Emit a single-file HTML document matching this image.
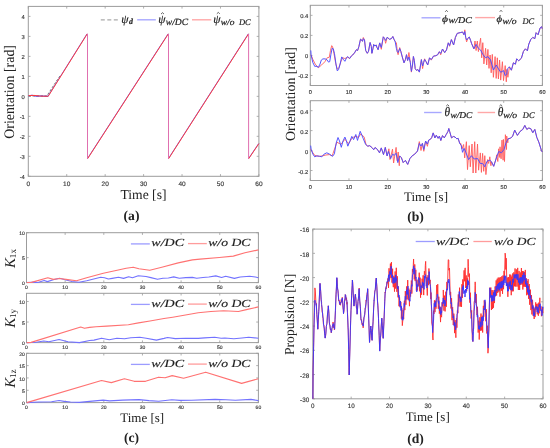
<!DOCTYPE html>
<html><head><meta charset="utf-8"><style>
html,body{margin:0;padding:0;background:#fff;}
svg{display:block;filter:blur(0.3px);} text{text-rendering:geometricPrecision;}
</style></head><body>
<svg width="550" height="448" viewBox="0 0 550 448">
<rect width="550" height="448" fill="#fff"/>
<rect x="28.30" y="6.40" width="230.60" height="169.90" fill="none" stroke="#9c9c9c" stroke-width="1"/>
<line x1="28.30" y1="176.3" x2="28.30" y2="174.10000000000002" stroke="#9c9c9c" stroke-width="0.8"/>
<line x1="28.30" y1="6.4" x2="28.30" y2="8.600000000000001" stroke="#9c9c9c" stroke-width="0.8"/>
<text x="28.30" y="185.60" font-size="6.5" text-anchor="middle" fill="#383838" stroke="#383838" stroke-width="0.15" font-family="'Liberation Sans', sans-serif">0</text>
<line x1="66.73" y1="176.3" x2="66.73" y2="174.10000000000002" stroke="#9c9c9c" stroke-width="0.8"/>
<line x1="66.73" y1="6.4" x2="66.73" y2="8.600000000000001" stroke="#9c9c9c" stroke-width="0.8"/>
<text x="66.73" y="185.60" font-size="6.5" text-anchor="middle" fill="#383838" stroke="#383838" stroke-width="0.15" font-family="'Liberation Sans', sans-serif">10</text>
<line x1="105.17" y1="176.3" x2="105.17" y2="174.10000000000002" stroke="#9c9c9c" stroke-width="0.8"/>
<line x1="105.17" y1="6.4" x2="105.17" y2="8.600000000000001" stroke="#9c9c9c" stroke-width="0.8"/>
<text x="105.17" y="185.60" font-size="6.5" text-anchor="middle" fill="#383838" stroke="#383838" stroke-width="0.15" font-family="'Liberation Sans', sans-serif">20</text>
<line x1="143.60" y1="176.3" x2="143.60" y2="174.10000000000002" stroke="#9c9c9c" stroke-width="0.8"/>
<line x1="143.60" y1="6.4" x2="143.60" y2="8.600000000000001" stroke="#9c9c9c" stroke-width="0.8"/>
<text x="143.60" y="185.60" font-size="6.5" text-anchor="middle" fill="#383838" stroke="#383838" stroke-width="0.15" font-family="'Liberation Sans', sans-serif">30</text>
<line x1="182.03" y1="176.3" x2="182.03" y2="174.10000000000002" stroke="#9c9c9c" stroke-width="0.8"/>
<line x1="182.03" y1="6.4" x2="182.03" y2="8.600000000000001" stroke="#9c9c9c" stroke-width="0.8"/>
<text x="182.03" y="185.60" font-size="6.5" text-anchor="middle" fill="#383838" stroke="#383838" stroke-width="0.15" font-family="'Liberation Sans', sans-serif">40</text>
<line x1="220.47" y1="176.3" x2="220.47" y2="174.10000000000002" stroke="#9c9c9c" stroke-width="0.8"/>
<line x1="220.47" y1="6.4" x2="220.47" y2="8.600000000000001" stroke="#9c9c9c" stroke-width="0.8"/>
<text x="220.47" y="185.60" font-size="6.5" text-anchor="middle" fill="#383838" stroke="#383838" stroke-width="0.15" font-family="'Liberation Sans', sans-serif">50</text>
<line x1="258.90" y1="176.3" x2="258.90" y2="174.10000000000002" stroke="#9c9c9c" stroke-width="0.8"/>
<line x1="258.90" y1="6.4" x2="258.90" y2="8.600000000000001" stroke="#9c9c9c" stroke-width="0.8"/>
<text x="258.90" y="185.60" font-size="6.5" text-anchor="middle" fill="#383838" stroke="#383838" stroke-width="0.15" font-family="'Liberation Sans', sans-serif">60</text>
<line x1="28.3" y1="176.30" x2="30.5" y2="176.30" stroke="#9c9c9c" stroke-width="0.8"/>
<line x1="258.9" y1="176.30" x2="256.7" y2="176.30" stroke="#9c9c9c" stroke-width="0.8"/>
<text x="24.80" y="179.29" font-size="5.8" text-anchor="end" fill="#383838" stroke="#383838" stroke-width="0.15" font-family="'Liberation Sans', sans-serif">-4</text>
<line x1="28.3" y1="156.31" x2="30.5" y2="156.31" stroke="#9c9c9c" stroke-width="0.8"/>
<line x1="258.9" y1="156.31" x2="256.7" y2="156.31" stroke="#9c9c9c" stroke-width="0.8"/>
<text x="24.80" y="159.30" font-size="5.8" text-anchor="end" fill="#383838" stroke="#383838" stroke-width="0.15" font-family="'Liberation Sans', sans-serif">-3</text>
<line x1="28.3" y1="136.32" x2="30.5" y2="136.32" stroke="#9c9c9c" stroke-width="0.8"/>
<line x1="258.9" y1="136.32" x2="256.7" y2="136.32" stroke="#9c9c9c" stroke-width="0.8"/>
<text x="24.80" y="139.31" font-size="5.8" text-anchor="end" fill="#383838" stroke="#383838" stroke-width="0.15" font-family="'Liberation Sans', sans-serif">-2</text>
<line x1="28.3" y1="116.34" x2="30.5" y2="116.34" stroke="#9c9c9c" stroke-width="0.8"/>
<line x1="258.9" y1="116.34" x2="256.7" y2="116.34" stroke="#9c9c9c" stroke-width="0.8"/>
<text x="24.80" y="119.32" font-size="5.8" text-anchor="end" fill="#383838" stroke="#383838" stroke-width="0.15" font-family="'Liberation Sans', sans-serif">-1</text>
<line x1="28.3" y1="96.35" x2="30.5" y2="96.35" stroke="#9c9c9c" stroke-width="0.8"/>
<line x1="258.9" y1="96.35" x2="256.7" y2="96.35" stroke="#9c9c9c" stroke-width="0.8"/>
<text x="24.80" y="99.34" font-size="5.8" text-anchor="end" fill="#383838" stroke="#383838" stroke-width="0.15" font-family="'Liberation Sans', sans-serif">0</text>
<line x1="28.3" y1="76.36" x2="30.5" y2="76.36" stroke="#9c9c9c" stroke-width="0.8"/>
<line x1="258.9" y1="76.36" x2="256.7" y2="76.36" stroke="#9c9c9c" stroke-width="0.8"/>
<text x="24.80" y="79.35" font-size="5.8" text-anchor="end" fill="#383838" stroke="#383838" stroke-width="0.15" font-family="'Liberation Sans', sans-serif">1</text>
<line x1="28.3" y1="56.37" x2="30.5" y2="56.37" stroke="#9c9c9c" stroke-width="0.8"/>
<line x1="258.9" y1="56.37" x2="256.7" y2="56.37" stroke="#9c9c9c" stroke-width="0.8"/>
<text x="24.80" y="59.36" font-size="5.8" text-anchor="end" fill="#383838" stroke="#383838" stroke-width="0.15" font-family="'Liberation Sans', sans-serif">2</text>
<line x1="28.3" y1="36.38" x2="30.5" y2="36.38" stroke="#9c9c9c" stroke-width="0.8"/>
<line x1="258.9" y1="36.38" x2="256.7" y2="36.38" stroke="#9c9c9c" stroke-width="0.8"/>
<text x="24.80" y="39.37" font-size="5.8" text-anchor="end" fill="#383838" stroke="#383838" stroke-width="0.15" font-family="'Liberation Sans', sans-serif">3</text>
<line x1="28.3" y1="16.39" x2="30.5" y2="16.39" stroke="#9c9c9c" stroke-width="0.8"/>
<line x1="258.9" y1="16.39" x2="256.7" y2="16.39" stroke="#9c9c9c" stroke-width="0.8"/>
<text x="24.80" y="19.38" font-size="5.8" text-anchor="end" fill="#383838" stroke="#383838" stroke-width="0.15" font-family="'Liberation Sans', sans-serif">4</text>
<text transform="translate(14.1,91.9) rotate(-90)" font-size="14.5" font-family="'Liberation Serif', serif" fill="#222" text-anchor="middle" textLength="93.8" lengthAdjust="spacingAndGlyphs">Orientation [rad]</text>
<text x="143.50" y="198.70" font-size="13.6" font-family="'Liberation Serif', serif" fill="#222" text-anchor="middle" >Time [s]</text>
<text x="131.50" y="220.00" font-size="13.6" font-family="'Liberation Serif', serif" fill="#222" text-anchor="middle" font-weight="bold">(a)</text>
<polyline points="28.50,96.00 46.80,96.00 57.50,79.50 60.00,76.00" fill="none" stroke="#777" stroke-width="1.0" stroke-opacity="1.0" stroke-linejoin="round" stroke-dasharray="2.5,1.5"/>
<polyline points="28.50,95.80 32.00,95.20 36.00,96.20 41.00,96.00 48.20,96.30" fill="none" stroke="#4040ff" stroke-width="1.0" stroke-opacity="1.0" stroke-linejoin="round"/>
<polyline points="28.50,95.60 34.00,95.40 40.50,96.10 48.20,96.30" fill="none" stroke="#ff3a3a" stroke-width="1.0" stroke-opacity="1.0" stroke-linejoin="round"/>
<polyline points="47.95,96.30 87.05,33.80" fill="none" stroke="#5050ff" stroke-width="0.8" stroke-opacity="1.0" stroke-linejoin="round"/>
<polyline points="87.35,158.70 168.15,33.80" fill="none" stroke="#5050ff" stroke-width="0.8" stroke-opacity="1.0" stroke-linejoin="round"/>
<polyline points="168.35,158.70 248.35,33.80" fill="none" stroke="#5050ff" stroke-width="0.8" stroke-opacity="1.0" stroke-linejoin="round"/>
<polyline points="248.45,158.70 258.65,143.60" fill="none" stroke="#5050ff" stroke-width="0.8" stroke-opacity="1.0" stroke-linejoin="round"/>
<polyline points="48.20,96.30 87.30,33.80" fill="none" stroke="#ff3a3a" stroke-width="1.0" stroke-opacity="1.0" stroke-linejoin="round"/>
<polyline points="87.60,158.70 168.40,33.80" fill="none" stroke="#ff3a3a" stroke-width="1.0" stroke-opacity="1.0" stroke-linejoin="round"/>
<polyline points="168.60,158.70 248.60,33.80" fill="none" stroke="#ff3a3a" stroke-width="1.0" stroke-opacity="1.0" stroke-linejoin="round"/>
<polyline points="248.70,158.70 258.90,143.60" fill="none" stroke="#ff3a3a" stroke-width="1.0" stroke-opacity="1.0" stroke-linejoin="round"/>
<line x1="87.5" y1="34" x2="87.5" y2="158.7" stroke="#e070b0" stroke-width="1"/>
<line x1="168.5" y1="34" x2="168.5" y2="158.7" stroke="#e070b0" stroke-width="1"/>
<line x1="248.6" y1="34" x2="248.6" y2="158.7" stroke="#e070b0" stroke-width="1"/>
<line x1="100.8" y1="19.8" x2="119" y2="19.8" stroke="#aaa" stroke-width="1.3" stroke-dasharray="4,2.5"/>
<line x1="137.2" y1="19.8" x2="155.8" y2="19.8" stroke="#a8a8ff" stroke-width="1.4"/>
<line x1="192" y1="19.8" x2="211.3" y2="19.8" stroke="#ffa8a8" stroke-width="1.4"/>
<text x="121.30" y="22.60" font-size="11.7" font-family="'Liberation Serif', serif" fill="#222" text-anchor="start" font-style="italic" stroke="#222" stroke-width="0.2">ψ</text>
<text x="128.90" y="24.40" font-size="7.8" font-family="'Liberation Serif', serif" fill="#222" text-anchor="start" font-style="italic" stroke="#222" stroke-width="0.2" font-weight="bold">d</text>
<text x="158.30" y="22.60" font-size="11.7" font-family="'Liberation Serif', serif" fill="#222" text-anchor="start" font-style="italic" stroke="#222" stroke-width="0.2">ψ</text>
<polyline points="161.00,14.10 162.50,12.70 164.00,14.10" fill="none" stroke="#222" stroke-width="0.7"/>
<text x="165.80" y="25.10" font-size="9.5" font-family="'Liberation Serif', serif" fill="#222" text-anchor="start" font-style="italic" stroke="#222" stroke-width="0.2" textLength="22.3" lengthAdjust="spacingAndGlyphs">w/DC</text>
<text x="213.20" y="22.60" font-size="11.7" font-family="'Liberation Serif', serif" fill="#222" text-anchor="start" font-style="italic" stroke="#222" stroke-width="0.2">ψ</text>
<polyline points="216.80,13.80 218.30,12.40 219.80,13.80" fill="none" stroke="#222" stroke-width="0.7"/>
<text x="220.70" y="25.30" font-size="9.0" font-family="'Liberation Serif', serif" fill="#222" text-anchor="start" font-style="italic" stroke="#222" stroke-width="0.2" textLength="13.7" lengthAdjust="spacingAndGlyphs">w/o</text>
<text x="238.90" y="25.30" font-size="8.6" font-family="'Liberation Serif', serif" fill="#222" text-anchor="start" font-style="italic" stroke="#222" stroke-width="0.2" textLength="11.8" lengthAdjust="spacingAndGlyphs">DC</text>
<rect x="310.30" y="5.30" width="232.10" height="80.20" fill="none" stroke="#9c9c9c" stroke-width="1"/>
<line x1="310.30" y1="85.5" x2="310.30" y2="83.3" stroke="#9c9c9c" stroke-width="0.8"/>
<line x1="310.30" y1="5.3" x2="310.30" y2="7.5" stroke="#9c9c9c" stroke-width="0.8"/>
<text x="310.30" y="93.50" font-size="5.6" text-anchor="middle" fill="#383838" stroke="#383838" stroke-width="0.15" font-family="'Liberation Sans', sans-serif">0</text>
<line x1="348.98" y1="85.5" x2="348.98" y2="83.3" stroke="#9c9c9c" stroke-width="0.8"/>
<line x1="348.98" y1="5.3" x2="348.98" y2="7.5" stroke="#9c9c9c" stroke-width="0.8"/>
<text x="348.98" y="93.50" font-size="5.6" text-anchor="middle" fill="#383838" stroke="#383838" stroke-width="0.15" font-family="'Liberation Sans', sans-serif">10</text>
<line x1="387.67" y1="85.5" x2="387.67" y2="83.3" stroke="#9c9c9c" stroke-width="0.8"/>
<line x1="387.67" y1="5.3" x2="387.67" y2="7.5" stroke="#9c9c9c" stroke-width="0.8"/>
<text x="387.67" y="93.50" font-size="5.6" text-anchor="middle" fill="#383838" stroke="#383838" stroke-width="0.15" font-family="'Liberation Sans', sans-serif">20</text>
<line x1="426.35" y1="85.5" x2="426.35" y2="83.3" stroke="#9c9c9c" stroke-width="0.8"/>
<line x1="426.35" y1="5.3" x2="426.35" y2="7.5" stroke="#9c9c9c" stroke-width="0.8"/>
<text x="426.35" y="93.50" font-size="5.6" text-anchor="middle" fill="#383838" stroke="#383838" stroke-width="0.15" font-family="'Liberation Sans', sans-serif">30</text>
<line x1="465.03" y1="85.5" x2="465.03" y2="83.3" stroke="#9c9c9c" stroke-width="0.8"/>
<line x1="465.03" y1="5.3" x2="465.03" y2="7.5" stroke="#9c9c9c" stroke-width="0.8"/>
<text x="465.03" y="93.50" font-size="5.6" text-anchor="middle" fill="#383838" stroke="#383838" stroke-width="0.15" font-family="'Liberation Sans', sans-serif">40</text>
<line x1="503.72" y1="85.5" x2="503.72" y2="83.3" stroke="#9c9c9c" stroke-width="0.8"/>
<line x1="503.72" y1="5.3" x2="503.72" y2="7.5" stroke="#9c9c9c" stroke-width="0.8"/>
<text x="503.72" y="93.50" font-size="5.6" text-anchor="middle" fill="#383838" stroke="#383838" stroke-width="0.15" font-family="'Liberation Sans', sans-serif">50</text>
<line x1="542.40" y1="85.5" x2="542.40" y2="83.3" stroke="#9c9c9c" stroke-width="0.8"/>
<line x1="542.40" y1="5.3" x2="542.40" y2="7.5" stroke="#9c9c9c" stroke-width="0.8"/>
<text x="542.40" y="93.50" font-size="5.6" text-anchor="middle" fill="#383838" stroke="#383838" stroke-width="0.15" font-family="'Liberation Sans', sans-serif">60</text>
<line x1="310.3" y1="75.47" x2="312.5" y2="75.47" stroke="#9c9c9c" stroke-width="0.8"/>
<line x1="542.4" y1="75.47" x2="540.1999999999999" y2="75.47" stroke="#9c9c9c" stroke-width="0.8"/>
<text x="308.20" y="78.46" font-size="5.8" text-anchor="end" fill="#383838" stroke="#383838" stroke-width="0.15" font-family="'Liberation Sans', sans-serif">-0.2</text>
<line x1="310.3" y1="55.43" x2="312.5" y2="55.43" stroke="#9c9c9c" stroke-width="0.8"/>
<line x1="542.4" y1="55.43" x2="540.1999999999999" y2="55.43" stroke="#9c9c9c" stroke-width="0.8"/>
<text x="308.20" y="58.41" font-size="5.8" text-anchor="end" fill="#383838" stroke="#383838" stroke-width="0.15" font-family="'Liberation Sans', sans-serif">0</text>
<line x1="310.3" y1="35.38" x2="312.5" y2="35.38" stroke="#9c9c9c" stroke-width="0.8"/>
<line x1="542.4" y1="35.38" x2="540.1999999999999" y2="35.38" stroke="#9c9c9c" stroke-width="0.8"/>
<text x="308.20" y="38.36" font-size="5.8" text-anchor="end" fill="#383838" stroke="#383838" stroke-width="0.15" font-family="'Liberation Sans', sans-serif">0.2</text>
<line x1="310.3" y1="15.33" x2="312.5" y2="15.33" stroke="#9c9c9c" stroke-width="0.8"/>
<line x1="542.4" y1="15.33" x2="540.1999999999999" y2="15.33" stroke="#9c9c9c" stroke-width="0.8"/>
<text x="308.20" y="18.31" font-size="5.8" text-anchor="end" fill="#383838" stroke="#383838" stroke-width="0.15" font-family="'Liberation Sans', sans-serif">0.4</text>
<rect x="310.30" y="100.70" width="232.10" height="79.80" fill="none" stroke="#9c9c9c" stroke-width="1"/>
<line x1="310.30" y1="180.5" x2="310.30" y2="178.3" stroke="#9c9c9c" stroke-width="0.8"/>
<line x1="310.30" y1="100.7" x2="310.30" y2="102.9" stroke="#9c9c9c" stroke-width="0.8"/>
<text x="310.30" y="188.80" font-size="5.6" text-anchor="middle" fill="#383838" stroke="#383838" stroke-width="0.15" font-family="'Liberation Sans', sans-serif">0</text>
<line x1="348.98" y1="180.5" x2="348.98" y2="178.3" stroke="#9c9c9c" stroke-width="0.8"/>
<line x1="348.98" y1="100.7" x2="348.98" y2="102.9" stroke="#9c9c9c" stroke-width="0.8"/>
<text x="348.98" y="188.80" font-size="5.6" text-anchor="middle" fill="#383838" stroke="#383838" stroke-width="0.15" font-family="'Liberation Sans', sans-serif">10</text>
<line x1="387.67" y1="180.5" x2="387.67" y2="178.3" stroke="#9c9c9c" stroke-width="0.8"/>
<line x1="387.67" y1="100.7" x2="387.67" y2="102.9" stroke="#9c9c9c" stroke-width="0.8"/>
<text x="387.67" y="188.80" font-size="5.6" text-anchor="middle" fill="#383838" stroke="#383838" stroke-width="0.15" font-family="'Liberation Sans', sans-serif">20</text>
<line x1="426.35" y1="180.5" x2="426.35" y2="178.3" stroke="#9c9c9c" stroke-width="0.8"/>
<line x1="426.35" y1="100.7" x2="426.35" y2="102.9" stroke="#9c9c9c" stroke-width="0.8"/>
<text x="426.35" y="188.80" font-size="5.6" text-anchor="middle" fill="#383838" stroke="#383838" stroke-width="0.15" font-family="'Liberation Sans', sans-serif">30</text>
<line x1="465.03" y1="180.5" x2="465.03" y2="178.3" stroke="#9c9c9c" stroke-width="0.8"/>
<line x1="465.03" y1="100.7" x2="465.03" y2="102.9" stroke="#9c9c9c" stroke-width="0.8"/>
<text x="465.03" y="188.80" font-size="5.6" text-anchor="middle" fill="#383838" stroke="#383838" stroke-width="0.15" font-family="'Liberation Sans', sans-serif">40</text>
<line x1="503.72" y1="180.5" x2="503.72" y2="178.3" stroke="#9c9c9c" stroke-width="0.8"/>
<line x1="503.72" y1="100.7" x2="503.72" y2="102.9" stroke="#9c9c9c" stroke-width="0.8"/>
<text x="503.72" y="188.80" font-size="5.6" text-anchor="middle" fill="#383838" stroke="#383838" stroke-width="0.15" font-family="'Liberation Sans', sans-serif">50</text>
<line x1="542.40" y1="180.5" x2="542.40" y2="178.3" stroke="#9c9c9c" stroke-width="0.8"/>
<line x1="542.40" y1="100.7" x2="542.40" y2="102.9" stroke="#9c9c9c" stroke-width="0.8"/>
<text x="542.40" y="188.80" font-size="5.6" text-anchor="middle" fill="#383838" stroke="#383838" stroke-width="0.15" font-family="'Liberation Sans', sans-serif">60</text>
<line x1="310.3" y1="170.53" x2="312.5" y2="170.53" stroke="#9c9c9c" stroke-width="0.8"/>
<line x1="542.4" y1="170.53" x2="540.1999999999999" y2="170.53" stroke="#9c9c9c" stroke-width="0.8"/>
<text x="308.20" y="173.51" font-size="5.8" text-anchor="end" fill="#383838" stroke="#383838" stroke-width="0.15" font-family="'Liberation Sans', sans-serif">-0.2</text>
<line x1="310.3" y1="150.58" x2="312.5" y2="150.58" stroke="#9c9c9c" stroke-width="0.8"/>
<line x1="542.4" y1="150.58" x2="540.1999999999999" y2="150.58" stroke="#9c9c9c" stroke-width="0.8"/>
<text x="308.20" y="153.56" font-size="5.8" text-anchor="end" fill="#383838" stroke="#383838" stroke-width="0.15" font-family="'Liberation Sans', sans-serif">0</text>
<line x1="310.3" y1="130.62" x2="312.5" y2="130.62" stroke="#9c9c9c" stroke-width="0.8"/>
<line x1="542.4" y1="130.62" x2="540.1999999999999" y2="130.62" stroke="#9c9c9c" stroke-width="0.8"/>
<text x="308.20" y="133.61" font-size="5.8" text-anchor="end" fill="#383838" stroke="#383838" stroke-width="0.15" font-family="'Liberation Sans', sans-serif">0.2</text>
<line x1="310.3" y1="110.68" x2="312.5" y2="110.68" stroke="#9c9c9c" stroke-width="0.8"/>
<line x1="542.4" y1="110.68" x2="540.1999999999999" y2="110.68" stroke="#9c9c9c" stroke-width="0.8"/>
<text x="308.20" y="113.66" font-size="5.8" text-anchor="end" fill="#383838" stroke="#383838" stroke-width="0.15" font-family="'Liberation Sans', sans-serif">0.4</text>
<text transform="translate(294.6,94.1) rotate(-90)" font-size="14" font-family="'Liberation Serif', serif" fill="#222" text-anchor="middle" textLength="94" lengthAdjust="spacingAndGlyphs">Orientation [rad]</text>
<polyline points="311.10,54.90 312.80,59.30 315.20,64.10 318.40,67.70 321.70,64.90 324.90,61.70 327.30,57.70 329.30,57.30 330.50,50.40 331.70,45.60 332.50,46.40 333.70,52.00 335.70,63.30 337.30,69.30 338.90,67.70 340.90,61.70 342.50,57.70 344.90,58.50 347.80,57.30 349.60,58.50 351.60,55.70 354.00,53.70 356.40,49.70 357.60,50.50 358.90,46.50 360.50,39.20 361.70,40.00 362.50,41.30 363.30,37.50 364.50,40.00 365.70,50.50 367.30,53.30 368.50,51.30 370.10,42.50 371.30,46.50 371.90,53.30 372.90,48.90 373.70,44.50 374.90,46.10 376.10,44.90 376.90,47.30 378.10,49.70 379.70,42.90 381.30,49.30 383.30,36.80 384.60,38.50 385.60,43.30 387.20,37.30 389.60,39.30 391.60,38.50 392.80,36.50 394.00,39.30 395.20,41.70 396.40,42.70 397.30,51.70 398.10,54.70 399.70,47.60 400.90,51.60 402.30,57.00 404.00,62.80 405.40,59.60 406.50,54.70 407.60,60.50 408.90,52.50 410.30,62.30 411.40,72.10 412.50,65.00 413.40,56.50 414.30,60.50 415.20,68.60 416.50,70.40 417.90,69.50 419.40,72.10 421.40,59.60 422.60,68.60 423.70,62.30 424.60,58.80 425.90,61.40 427.70,65.00 429.50,57.90 431.30,60.10 433.50,56.10 435.80,55.70 437.60,54.80 439.40,51.70 440.70,54.80 442.50,49.00 444.70,52.60 446.50,49.90 448.30,42.80 449.60,46.30 451.40,39.60 453.60,45.00 455.40,37.40 457.20,33.40 459.00,32.90 460.80,32.50 462.60,32.00 463.90,34.70 464.80,29.80 465.70,37.40 466.60,41.90 467.90,38.30 469.30,37.00 470.60,40.50 471.70,43.80 473.90,48.80 475.00,41.00 476.10,50.50 477.30,41.00 478.40,51.60 480.60,38.20 481.70,57.80 482.80,42.70 483.90,63.90 485.60,48.30 486.70,65.00 487.90,49.40 489.00,68.40 490.10,55.00 491.20,72.80 492.30,54.40 493.40,77.30 495.10,56.60 496.20,78.40 497.30,57.80 498.40,79.00 499.60,60.00 500.70,80.10 502.40,61.70 503.50,80.60 505.20,65.60 506.30,81.80 506.80,69.50 507.90,77.30 509.40,66.90 511.40,70.20 513.40,62.80 515.40,64.20 516.70,58.80 518.70,60.80 521.40,58.20 523.40,51.50 525.40,48.80 527.40,50.80 528.80,44.10 530.80,39.40 532.80,37.40 534.80,38.70 536.10,32.70 538.10,34.70 540.10,28.00 541.50,26.70 542.20,28.70" fill="none" stroke="#ff5a5a" stroke-width="0.9" stroke-opacity="1.0" stroke-linejoin="round"/>
<polyline points="310.80,50.40 311.10,54.90 312.80,62.50 314.80,66.50 316.00,66.10 318.40,67.30 320.00,64.10 321.30,60.10 322.90,58.90 325.30,58.90 327.30,60.10 328.50,62.10 329.70,61.70 330.90,54.50 332.10,48.40 333.30,48.80 334.50,53.70 336.10,64.90 337.30,70.90 338.50,69.70 340.10,64.10 341.70,56.90 343.30,59.30 344.90,61.30 346.60,57.70 347.60,56.50 349.60,58.50 351.60,55.70 354.00,53.70 356.40,49.70 357.60,50.50 358.90,46.50 360.50,39.20 361.70,40.00 362.50,41.30 363.30,38.60 364.50,40.00 365.70,50.50 367.30,53.30 368.50,51.30 370.10,42.50 371.30,46.50 371.90,53.30 372.90,48.90 373.70,44.50 374.90,46.10 376.10,44.90 376.90,47.30 378.10,49.70 379.70,42.90 381.30,47.50 383.30,36.80 384.60,38.50 385.60,40.50 387.20,37.30 389.60,39.30 391.60,38.50 392.80,36.50 394.00,39.30 395.20,41.70 396.40,48.50 397.30,51.70 398.10,52.50 399.70,48.50 400.90,51.60 402.30,57.00 404.00,62.80 405.40,59.60 406.50,54.70 407.60,60.50 408.90,57.00 410.30,62.30 411.40,71.30 412.50,65.00 413.40,56.50 414.30,60.50 415.20,68.60 416.50,70.40 417.90,69.50 419.40,72.10 421.40,59.60 422.60,66.00 423.70,62.30 424.60,59.50 425.90,61.40 427.70,65.00 429.50,57.90 431.30,59.50 433.50,56.10 435.80,55.70 437.60,54.80 439.40,51.70 440.70,53.50 442.50,49.00 444.70,52.60 446.50,49.90 448.30,42.80 449.60,45.50 451.40,39.60 453.60,45.00 455.40,37.40 457.20,33.40 459.00,32.90 460.80,32.50 462.60,32.00 463.90,34.70 464.80,31.50 465.70,37.40 466.60,40.00 467.90,38.30 469.30,37.00 470.60,40.50 471.70,43.80 473.90,48.80 476.10,44.40 478.40,48.30 480.60,50.00 482.80,54.40 485.60,57.80 487.90,56.60 490.60,60.00 493.40,70.00 496.20,65.00 498.50,68.90 500.70,72.30 503.50,70.60 505.20,75.60 506.80,73.90 507.30,68.90 509.40,66.90 511.40,70.20 513.40,62.80 515.40,64.20 516.70,58.80 518.70,60.80 521.40,58.20 523.40,51.50 525.40,48.80 527.40,50.80 528.80,44.10 530.80,39.40 532.80,37.40 534.80,38.70 536.10,32.70 538.10,34.70 540.10,28.00 541.50,26.70 542.20,28.70" fill="none" stroke="#4c4cff" stroke-width="0.95" stroke-opacity="1.0" stroke-linejoin="round"/>
<polyline points="310.70,149.20 312.50,152.30 314.70,155.40 316.90,155.90 319.60,156.30 322.30,155.90 325.90,155.00 329.40,154.60 332.10,155.90 332.90,153.80 336.90,142.20 340.90,144.40 344.90,139.30 348.50,143.60 352.50,137.50 356.20,136.40 358.40,137.50 360.90,133.80 364.20,137.10 366.10,144.80 367.80,146.20 369.70,145.70 371.90,147.50 373.70,149.70 375.00,147.50 377.30,149.30 379.50,152.80 381.30,147.90 383.50,154.60 385.30,147.40 387.10,155.90 388.90,148.80 390.00,159.50 392.50,149.20 393.60,163.00 396.10,147.40 397.20,160.80 398.20,152.00 399.30,165.70 399.60,155.90 401.40,157.70 403.20,162.60 405.40,160.40 407.70,164.40 409.90,158.60 412.10,155.90 414.80,154.10 417.50,151.00 419.30,141.60 421.00,150.50 422.40,143.40 423.80,151.30 425.60,141.00 427.40,146.30 428.70,140.10 430.50,139.20 431.80,137.40 433.20,132.90 434.90,137.90 436.30,135.20 438.10,138.30 439.40,136.10 440.80,140.50 442.50,135.60 444.30,137.90 446.10,134.70 447.90,131.60 448.80,128.50 449.70,131.60 451.50,137.90 453.30,136.50 455.00,137.00 456.80,138.80 458.20,138.40 459.70,143.40 460.80,143.40 461.90,149.00 463.60,144.50 464.70,157.90 466.40,141.70 467.50,169.60 469.20,145.60 470.30,166.80 472.00,144.00 473.10,173.00 474.70,141.70 475.80,173.00 477.50,144.00 478.60,170.20 480.30,152.90 481.40,172.40 482.60,153.40 483.70,171.30 484.80,155.70 485.90,174.60 487.60,159.60 488.70,163.50 489.80,156.80 490.90,165.70 491.50,161.80 493.70,166.30 496.00,159.00 496.70,154.80 497.80,161.50 498.70,148.80 499.80,157.50 500.00,146.80 501.10,158.80 502.00,140.10 503.10,160.20 503.40,139.40 504.50,161.50 505.40,134.70 506.50,149.50 506.70,136.10 507.80,142.80 508.10,138.80 510.70,138.10 512.70,136.10 514.70,130.10 517.40,135.40 520.10,131.40 522.80,129.40 524.80,125.40 526.80,129.40 528.80,128.00 530.80,128.70 532.80,132.70 534.80,129.40 536.80,137.40 538.80,142.10 541.50,150.80 542.40,152.00" fill="none" stroke="#ff5a5a" stroke-width="0.9" stroke-opacity="1.0" stroke-linejoin="round"/>
<polyline points="310.70,145.60 311.10,149.20 312.90,154.10 314.70,156.80 316.90,155.90 319.60,156.30 321.80,156.80 324.10,154.10 326.80,152.80 329.40,154.10 332.60,156.30 334.40,153.80 336.20,143.00 338.00,137.50 339.50,141.00 341.30,147.30 343.00,141.00 344.90,137.10 346.30,140.50 347.80,146.20 349.80,141.50 351.80,136.40 353.60,139.60 355.80,134.50 357.50,140.40 360.20,131.30 363.10,138.20 365.60,144.40 367.80,146.20 369.70,145.70 371.90,147.50 373.70,149.70 375.00,147.50 377.30,149.30 379.50,152.80 381.30,147.90 383.50,154.60 385.30,147.40 387.10,155.90 388.50,151.40 390.70,158.60 392.50,154.10 394.30,155.40 396.10,153.20 397.80,162.60 399.60,155.90 401.40,157.70 403.20,162.60 405.40,160.40 407.70,164.40 409.90,158.60 412.10,155.90 414.80,154.10 417.50,151.00 419.30,143.40 421.00,146.10 422.40,143.40 423.80,149.50 425.60,141.00 427.40,144.10 428.70,140.10 430.50,139.20 431.80,137.40 433.20,132.90 434.90,137.90 436.30,135.20 438.10,138.30 439.40,136.10 440.80,140.50 442.50,135.60 444.30,137.90 446.10,134.70 447.90,131.60 448.80,128.50 449.70,131.60 451.50,137.90 453.30,136.50 455.00,137.00 456.80,138.80 458.20,138.40 459.70,143.40 461.30,145.60 462.50,152.30 464.10,148.40 465.80,152.30 468.60,159.60 471.40,155.70 474.20,159.00 477.50,158.50 480.30,163.50 482.60,163.50 484.80,166.80 487.00,161.30 489.80,160.10 491.50,161.80 493.70,166.30 496.00,159.00 498.70,151.50 501.40,152.80 504.00,149.50 506.00,142.80 508.10,138.80 510.70,138.10 512.70,136.10 514.70,130.10 517.40,135.40 520.10,131.40 522.80,129.40 524.80,125.40 526.80,129.40 528.80,128.00 530.80,128.70 532.80,132.70 534.80,129.40 536.80,137.40 538.80,142.10 541.50,150.80 542.40,152.00" fill="none" stroke="#4c4cff" stroke-width="0.95" stroke-opacity="1.0" stroke-linejoin="round"/>
<line x1="421.5" y1="17.8" x2="440.5" y2="17.8" stroke="#a8a8ff" stroke-width="1.4"/>
<line x1="475.2" y1="17.6" x2="495" y2="17.6" stroke="#ffa8a8" stroke-width="1.4"/>
<text x="442.00" y="21.60" font-size="9.8" font-family="'Liberation Serif', serif" fill="#222" text-anchor="start" font-style="italic" stroke="#222" stroke-width="0.2" textLength="6" lengthAdjust="spacingAndGlyphs">ϕ</text>
<polyline points="445.20,11.80 446.50,10.40 447.80,11.80" fill="none" stroke="#222" stroke-width="0.7"/>
<text x="448.50" y="23.10" font-size="9" font-family="'Liberation Serif', serif" fill="#222" text-anchor="start" font-style="italic" stroke="#222" stroke-width="0.2" textLength="23.3" lengthAdjust="spacingAndGlyphs">w/DC</text>
<text x="496.60" y="22.00" font-size="9.8" font-family="'Liberation Serif', serif" fill="#222" text-anchor="start" font-style="italic" stroke="#222" stroke-width="0.2" textLength="5.6" lengthAdjust="spacingAndGlyphs">ϕ</text>
<polyline points="499.80,11.70 501.00,10.30 502.20,11.70" fill="none" stroke="#222" stroke-width="0.7"/>
<text x="502.60" y="23.50" font-size="9" font-family="'Liberation Serif', serif" fill="#222" text-anchor="start" font-style="italic" stroke="#222" stroke-width="0.2" textLength="14" lengthAdjust="spacingAndGlyphs">w/o</text>
<text x="522.40" y="23.50" font-size="8.6" font-family="'Liberation Serif', serif" fill="#222" text-anchor="start" font-style="italic" stroke="#222" stroke-width="0.2" textLength="11.7" lengthAdjust="spacingAndGlyphs">DC</text>
<line x1="424.1" y1="112.5" x2="441.6" y2="112.5" stroke="#a8a8ff" stroke-width="1.4"/>
<line x1="477.6" y1="112.5" x2="495.1" y2="112.5" stroke="#ffa8a8" stroke-width="1.4"/>
<text x="444.60" y="116.20" font-size="13" font-family="'Liberation Serif', serif" fill="#222" text-anchor="start" font-style="italic" stroke="#222" stroke-width="0.2" textLength="5.6" lengthAdjust="spacingAndGlyphs">θ</text>
<polyline points="446.20,106.10 447.65,104.70 449.10,106.10" fill="none" stroke="#222" stroke-width="0.7"/>
<text x="450.40" y="117.80" font-size="9" font-family="'Liberation Serif', serif" fill="#222" text-anchor="start" font-style="italic" stroke="#222" stroke-width="0.2" textLength="22" lengthAdjust="spacingAndGlyphs">w/DC</text>
<text x="497.80" y="116.20" font-size="13" font-family="'Liberation Serif', serif" fill="#222" text-anchor="start" font-style="italic" stroke="#222" stroke-width="0.2" textLength="5.6" lengthAdjust="spacingAndGlyphs">θ</text>
<polyline points="499.40,106.10 500.85,104.70 502.30,106.10" fill="none" stroke="#222" stroke-width="0.7"/>
<text x="503.20" y="118.00" font-size="9" font-family="'Liberation Serif', serif" fill="#222" text-anchor="start" font-style="italic" stroke="#222" stroke-width="0.2" textLength="14" lengthAdjust="spacingAndGlyphs">w/o</text>
<text x="522.80" y="118.00" font-size="8.6" font-family="'Liberation Serif', serif" fill="#222" text-anchor="start" font-style="italic" stroke="#222" stroke-width="0.2" textLength="11.8" lengthAdjust="spacingAndGlyphs">DC</text>
<text x="426.00" y="201.10" font-size="13" font-family="'Liberation Serif', serif" fill="#222" text-anchor="middle" >Time [s]</text>
<text x="415.60" y="220.50" font-size="13.6" font-family="'Liberation Serif', serif" fill="#222" text-anchor="middle" font-weight="bold">(b)</text>
<rect x="26.50" y="232.70" width="231.90" height="49.90" fill="none" stroke="#9c9c9c" stroke-width="1"/>
<line x1="26.50" y1="282.6" x2="26.50" y2="280.40000000000003" stroke="#9c9c9c" stroke-width="0.8"/>
<line x1="26.50" y1="232.7" x2="26.50" y2="234.89999999999998" stroke="#9c9c9c" stroke-width="0.8"/>
<text x="26.50" y="288.60" font-size="5.0" text-anchor="middle" fill="#383838" stroke="#383838" stroke-width="0.15" font-family="'Liberation Sans', sans-serif">0</text>
<line x1="65.15" y1="282.6" x2="65.15" y2="280.40000000000003" stroke="#9c9c9c" stroke-width="0.8"/>
<line x1="65.15" y1="232.7" x2="65.15" y2="234.89999999999998" stroke="#9c9c9c" stroke-width="0.8"/>
<text x="65.15" y="288.60" font-size="5.0" text-anchor="middle" fill="#383838" stroke="#383838" stroke-width="0.15" font-family="'Liberation Sans', sans-serif">10</text>
<line x1="103.80" y1="282.6" x2="103.80" y2="280.40000000000003" stroke="#9c9c9c" stroke-width="0.8"/>
<line x1="103.80" y1="232.7" x2="103.80" y2="234.89999999999998" stroke="#9c9c9c" stroke-width="0.8"/>
<text x="103.80" y="288.60" font-size="5.0" text-anchor="middle" fill="#383838" stroke="#383838" stroke-width="0.15" font-family="'Liberation Sans', sans-serif">20</text>
<line x1="142.45" y1="282.6" x2="142.45" y2="280.40000000000003" stroke="#9c9c9c" stroke-width="0.8"/>
<line x1="142.45" y1="232.7" x2="142.45" y2="234.89999999999998" stroke="#9c9c9c" stroke-width="0.8"/>
<text x="142.45" y="288.60" font-size="5.0" text-anchor="middle" fill="#383838" stroke="#383838" stroke-width="0.15" font-family="'Liberation Sans', sans-serif">30</text>
<line x1="181.10" y1="282.6" x2="181.10" y2="280.40000000000003" stroke="#9c9c9c" stroke-width="0.8"/>
<line x1="181.10" y1="232.7" x2="181.10" y2="234.89999999999998" stroke="#9c9c9c" stroke-width="0.8"/>
<text x="181.10" y="288.60" font-size="5.0" text-anchor="middle" fill="#383838" stroke="#383838" stroke-width="0.15" font-family="'Liberation Sans', sans-serif">40</text>
<line x1="219.75" y1="282.6" x2="219.75" y2="280.40000000000003" stroke="#9c9c9c" stroke-width="0.8"/>
<line x1="219.75" y1="232.7" x2="219.75" y2="234.89999999999998" stroke="#9c9c9c" stroke-width="0.8"/>
<text x="219.75" y="288.60" font-size="5.0" text-anchor="middle" fill="#383838" stroke="#383838" stroke-width="0.15" font-family="'Liberation Sans', sans-serif">50</text>
<line x1="258.40" y1="282.6" x2="258.40" y2="280.40000000000003" stroke="#9c9c9c" stroke-width="0.8"/>
<line x1="258.40" y1="232.7" x2="258.40" y2="234.89999999999998" stroke="#9c9c9c" stroke-width="0.8"/>
<text x="258.40" y="288.60" font-size="5.0" text-anchor="middle" fill="#383838" stroke="#383838" stroke-width="0.15" font-family="'Liberation Sans', sans-serif">60</text>
<line x1="26.5" y1="282.60" x2="28.7" y2="282.60" stroke="#9c9c9c" stroke-width="0.8"/>
<line x1="258.4" y1="282.60" x2="256.2" y2="282.60" stroke="#9c9c9c" stroke-width="0.8"/>
<text x="24.80" y="285.30" font-size="5.0" text-anchor="end" fill="#383838" stroke="#383838" stroke-width="0.15" font-family="'Liberation Sans', sans-serif">0</text>
<line x1="26.5" y1="257.65" x2="28.7" y2="257.65" stroke="#9c9c9c" stroke-width="0.8"/>
<line x1="258.4" y1="257.65" x2="256.2" y2="257.65" stroke="#9c9c9c" stroke-width="0.8"/>
<text x="24.80" y="260.35" font-size="5.0" text-anchor="end" fill="#383838" stroke="#383838" stroke-width="0.15" font-family="'Liberation Sans', sans-serif">5</text>
<line x1="26.5" y1="232.70" x2="28.7" y2="232.70" stroke="#9c9c9c" stroke-width="0.8"/>
<line x1="258.4" y1="232.70" x2="256.2" y2="232.70" stroke="#9c9c9c" stroke-width="0.8"/>
<text x="24.80" y="235.40" font-size="5.0" text-anchor="end" fill="#383838" stroke="#383838" stroke-width="0.15" font-family="'Liberation Sans', sans-serif">10</text>
<rect x="26.50" y="293.30" width="231.90" height="49.30" fill="none" stroke="#9c9c9c" stroke-width="1"/>
<line x1="26.50" y1="342.6" x2="26.50" y2="340.40000000000003" stroke="#9c9c9c" stroke-width="0.8"/>
<line x1="26.50" y1="293.3" x2="26.50" y2="295.5" stroke="#9c9c9c" stroke-width="0.8"/>
<text x="26.50" y="348.60" font-size="5.0" text-anchor="middle" fill="#383838" stroke="#383838" stroke-width="0.15" font-family="'Liberation Sans', sans-serif">0</text>
<line x1="65.15" y1="342.6" x2="65.15" y2="340.40000000000003" stroke="#9c9c9c" stroke-width="0.8"/>
<line x1="65.15" y1="293.3" x2="65.15" y2="295.5" stroke="#9c9c9c" stroke-width="0.8"/>
<text x="65.15" y="348.60" font-size="5.0" text-anchor="middle" fill="#383838" stroke="#383838" stroke-width="0.15" font-family="'Liberation Sans', sans-serif">10</text>
<line x1="103.80" y1="342.6" x2="103.80" y2="340.40000000000003" stroke="#9c9c9c" stroke-width="0.8"/>
<line x1="103.80" y1="293.3" x2="103.80" y2="295.5" stroke="#9c9c9c" stroke-width="0.8"/>
<text x="103.80" y="348.60" font-size="5.0" text-anchor="middle" fill="#383838" stroke="#383838" stroke-width="0.15" font-family="'Liberation Sans', sans-serif">20</text>
<line x1="142.45" y1="342.6" x2="142.45" y2="340.40000000000003" stroke="#9c9c9c" stroke-width="0.8"/>
<line x1="142.45" y1="293.3" x2="142.45" y2="295.5" stroke="#9c9c9c" stroke-width="0.8"/>
<text x="142.45" y="348.60" font-size="5.0" text-anchor="middle" fill="#383838" stroke="#383838" stroke-width="0.15" font-family="'Liberation Sans', sans-serif">30</text>
<line x1="181.10" y1="342.6" x2="181.10" y2="340.40000000000003" stroke="#9c9c9c" stroke-width="0.8"/>
<line x1="181.10" y1="293.3" x2="181.10" y2="295.5" stroke="#9c9c9c" stroke-width="0.8"/>
<text x="181.10" y="348.60" font-size="5.0" text-anchor="middle" fill="#383838" stroke="#383838" stroke-width="0.15" font-family="'Liberation Sans', sans-serif">40</text>
<line x1="219.75" y1="342.6" x2="219.75" y2="340.40000000000003" stroke="#9c9c9c" stroke-width="0.8"/>
<line x1="219.75" y1="293.3" x2="219.75" y2="295.5" stroke="#9c9c9c" stroke-width="0.8"/>
<text x="219.75" y="348.60" font-size="5.0" text-anchor="middle" fill="#383838" stroke="#383838" stroke-width="0.15" font-family="'Liberation Sans', sans-serif">50</text>
<line x1="258.40" y1="342.6" x2="258.40" y2="340.40000000000003" stroke="#9c9c9c" stroke-width="0.8"/>
<line x1="258.40" y1="293.3" x2="258.40" y2="295.5" stroke="#9c9c9c" stroke-width="0.8"/>
<text x="258.40" y="348.60" font-size="5.0" text-anchor="middle" fill="#383838" stroke="#383838" stroke-width="0.15" font-family="'Liberation Sans', sans-serif">60</text>
<line x1="26.5" y1="342.60" x2="28.7" y2="342.60" stroke="#9c9c9c" stroke-width="0.8"/>
<line x1="258.4" y1="342.60" x2="256.2" y2="342.60" stroke="#9c9c9c" stroke-width="0.8"/>
<text x="24.80" y="345.30" font-size="5.0" text-anchor="end" fill="#383838" stroke="#383838" stroke-width="0.15" font-family="'Liberation Sans', sans-serif">0</text>
<line x1="26.5" y1="322.06" x2="28.7" y2="322.06" stroke="#9c9c9c" stroke-width="0.8"/>
<line x1="258.4" y1="322.06" x2="256.2" y2="322.06" stroke="#9c9c9c" stroke-width="0.8"/>
<text x="24.80" y="324.76" font-size="5.0" text-anchor="end" fill="#383838" stroke="#383838" stroke-width="0.15" font-family="'Liberation Sans', sans-serif">5</text>
<line x1="26.5" y1="301.52" x2="28.7" y2="301.52" stroke="#9c9c9c" stroke-width="0.8"/>
<line x1="258.4" y1="301.52" x2="256.2" y2="301.52" stroke="#9c9c9c" stroke-width="0.8"/>
<text x="24.80" y="304.22" font-size="5.0" text-anchor="end" fill="#383838" stroke="#383838" stroke-width="0.15" font-family="'Liberation Sans', sans-serif">10</text>
<rect x="26.50" y="353.30" width="231.90" height="49.30" fill="none" stroke="#9c9c9c" stroke-width="1"/>
<line x1="26.50" y1="402.6" x2="26.50" y2="400.40000000000003" stroke="#9c9c9c" stroke-width="0.8"/>
<line x1="26.50" y1="353.3" x2="26.50" y2="355.5" stroke="#9c9c9c" stroke-width="0.8"/>
<text x="26.50" y="408.60" font-size="5.0" text-anchor="middle" fill="#383838" stroke="#383838" stroke-width="0.15" font-family="'Liberation Sans', sans-serif">0</text>
<line x1="65.15" y1="402.6" x2="65.15" y2="400.40000000000003" stroke="#9c9c9c" stroke-width="0.8"/>
<line x1="65.15" y1="353.3" x2="65.15" y2="355.5" stroke="#9c9c9c" stroke-width="0.8"/>
<text x="65.15" y="408.60" font-size="5.0" text-anchor="middle" fill="#383838" stroke="#383838" stroke-width="0.15" font-family="'Liberation Sans', sans-serif">10</text>
<line x1="103.80" y1="402.6" x2="103.80" y2="400.40000000000003" stroke="#9c9c9c" stroke-width="0.8"/>
<line x1="103.80" y1="353.3" x2="103.80" y2="355.5" stroke="#9c9c9c" stroke-width="0.8"/>
<text x="103.80" y="408.60" font-size="5.0" text-anchor="middle" fill="#383838" stroke="#383838" stroke-width="0.15" font-family="'Liberation Sans', sans-serif">20</text>
<line x1="142.45" y1="402.6" x2="142.45" y2="400.40000000000003" stroke="#9c9c9c" stroke-width="0.8"/>
<line x1="142.45" y1="353.3" x2="142.45" y2="355.5" stroke="#9c9c9c" stroke-width="0.8"/>
<text x="142.45" y="408.60" font-size="5.0" text-anchor="middle" fill="#383838" stroke="#383838" stroke-width="0.15" font-family="'Liberation Sans', sans-serif">30</text>
<line x1="181.10" y1="402.6" x2="181.10" y2="400.40000000000003" stroke="#9c9c9c" stroke-width="0.8"/>
<line x1="181.10" y1="353.3" x2="181.10" y2="355.5" stroke="#9c9c9c" stroke-width="0.8"/>
<text x="181.10" y="408.60" font-size="5.0" text-anchor="middle" fill="#383838" stroke="#383838" stroke-width="0.15" font-family="'Liberation Sans', sans-serif">40</text>
<line x1="219.75" y1="402.6" x2="219.75" y2="400.40000000000003" stroke="#9c9c9c" stroke-width="0.8"/>
<line x1="219.75" y1="353.3" x2="219.75" y2="355.5" stroke="#9c9c9c" stroke-width="0.8"/>
<text x="219.75" y="408.60" font-size="5.0" text-anchor="middle" fill="#383838" stroke="#383838" stroke-width="0.15" font-family="'Liberation Sans', sans-serif">50</text>
<line x1="258.40" y1="402.6" x2="258.40" y2="400.40000000000003" stroke="#9c9c9c" stroke-width="0.8"/>
<line x1="258.40" y1="353.3" x2="258.40" y2="355.5" stroke="#9c9c9c" stroke-width="0.8"/>
<text x="258.40" y="408.60" font-size="5.0" text-anchor="middle" fill="#383838" stroke="#383838" stroke-width="0.15" font-family="'Liberation Sans', sans-serif">60</text>
<line x1="26.5" y1="402.60" x2="28.7" y2="402.60" stroke="#9c9c9c" stroke-width="0.8"/>
<line x1="258.4" y1="402.60" x2="256.2" y2="402.60" stroke="#9c9c9c" stroke-width="0.8"/>
<text x="24.80" y="405.30" font-size="5.0" text-anchor="end" fill="#383838" stroke="#383838" stroke-width="0.15" font-family="'Liberation Sans', sans-serif">0</text>
<line x1="26.5" y1="390.28" x2="28.7" y2="390.28" stroke="#9c9c9c" stroke-width="0.8"/>
<line x1="258.4" y1="390.28" x2="256.2" y2="390.28" stroke="#9c9c9c" stroke-width="0.8"/>
<text x="24.80" y="392.98" font-size="5.0" text-anchor="end" fill="#383838" stroke="#383838" stroke-width="0.15" font-family="'Liberation Sans', sans-serif">5</text>
<line x1="26.5" y1="377.95" x2="28.7" y2="377.95" stroke="#9c9c9c" stroke-width="0.8"/>
<line x1="258.4" y1="377.95" x2="256.2" y2="377.95" stroke="#9c9c9c" stroke-width="0.8"/>
<text x="24.80" y="380.65" font-size="5.0" text-anchor="end" fill="#383838" stroke="#383838" stroke-width="0.15" font-family="'Liberation Sans', sans-serif">10</text>
<line x1="26.5" y1="365.62" x2="28.7" y2="365.62" stroke="#9c9c9c" stroke-width="0.8"/>
<line x1="258.4" y1="365.62" x2="256.2" y2="365.62" stroke="#9c9c9c" stroke-width="0.8"/>
<text x="24.80" y="368.32" font-size="5.0" text-anchor="end" fill="#383838" stroke="#383838" stroke-width="0.15" font-family="'Liberation Sans', sans-serif">15</text>
<line x1="26.5" y1="353.30" x2="28.7" y2="353.30" stroke="#9c9c9c" stroke-width="0.8"/>
<line x1="258.4" y1="353.30" x2="256.2" y2="353.30" stroke="#9c9c9c" stroke-width="0.8"/>
<text x="24.80" y="356.00" font-size="5.0" text-anchor="end" fill="#383838" stroke="#383838" stroke-width="0.15" font-family="'Liberation Sans', sans-serif">20</text>
<polyline points="26.70,282.50 35.10,282.10 37.80,282.50 44.20,280.50 47.40,281.60 53.30,279.80 59.60,278.30 65.10,279.80 72.00,281.50 79.10,282.20 86.70,280.70 100.70,277.30 104.50,277.70 108.40,279.00 112.20,278.40 118.50,277.30 123.60,278.40 128.70,276.80 132.50,277.70 138.30,275.80 146.00,276.50 150.90,277.60 157.50,279.30 162.90,278.20 168.40,278.00 173.80,276.90 179.30,278.20 185.80,277.60 192.40,277.40 196.70,278.20 203.00,277.50 208.80,277.00 215.80,275.90 221.60,277.50 225.70,276.30 234.40,278.40 240.20,277.00 249.60,276.30 255.40,277.00 258.40,277.80" fill="none" stroke="#7272ff" stroke-width="1.15" stroke-opacity="1.0" stroke-linejoin="round"/>
<polyline points="26.70,342.60 36.20,342.30 43.80,341.00 48.90,341.70 59.10,339.50 68.00,341.70 79.50,342.60 89.60,340.50 94.00,340.10 101.60,338.20 109.30,339.70 116.90,338.20 124.50,338.80 130.90,337.70 139.80,337.20 146.20,338.20 156.40,340.10 164.00,338.40 167.60,337.50 175.30,338.60 185.50,338.20 198.20,338.40 204.50,337.90 214.70,337.30 221.10,338.20 224.80,338.00 233.90,338.80 241.90,338.00 248.70,337.30 258.40,338.20" fill="none" stroke="#7272ff" stroke-width="1.15" stroke-opacity="1.0" stroke-linejoin="round"/>
<polyline points="26.70,402.60 38.70,402.00 51.50,401.70 59.10,400.50 64.20,401.40 70.50,402.00 79.50,402.40 89.60,401.40 103.10,400.10 109.60,400.90 122.70,400.10 139.10,399.60 148.90,400.60 158.70,401.20 171.80,399.80 180.00,400.40 191.60,400.30 215.10,399.40 226.00,399.80 235.40,400.30 251.00,399.40 258.40,400.60" fill="none" stroke="#7272ff" stroke-width="1.15" stroke-opacity="1.0" stroke-linejoin="round"/>
<polyline points="26.70,282.50 31.50,282.40 47.80,277.80 53.30,279.40 59.60,278.50 66.00,279.40 76.50,280.70 86.70,277.70 103.30,273.30 116.00,270.50 126.20,268.20 133.20,267.20 138.90,268.80 149.80,270.30 161.80,267.30 178.20,262.90 192.40,259.90 200.00,259.10 219.30,257.50 233.30,256.10 244.90,252.80 258.40,249.90" fill="none" stroke="#ff7272" stroke-width="1.15" stroke-opacity="1.0" stroke-linejoin="round"/>
<polyline points="26.70,342.60 31.10,342.40 80.70,327.00 84.50,328.30 89.60,327.40 96.00,326.70 106.70,326.10 128.40,324.80 138.50,322.90 150.00,321.00 164.00,318.50 172.70,317.20 185.50,315.00 198.20,312.70 210.90,311.50 223.60,310.80 238.40,311.50 246.40,309.60 258.40,306.90" fill="none" stroke="#ff7272" stroke-width="1.15" stroke-opacity="1.0" stroke-linejoin="round"/>
<polyline points="26.70,402.60 101.50,380.50 111.30,382.60 124.40,378.80 134.20,381.30 145.50,381.30 158.50,377.20 165.10,377.80 172.20,375.60 183.60,378.20 205.70,372.20 241.60,383.40 258.40,378.80" fill="none" stroke="#ff7272" stroke-width="1.15" stroke-opacity="1.0" stroke-linejoin="round"/>
<line x1="130.9" y1="243.90" x2="149.8" y2="243.90" stroke="#9c9cff" stroke-width="1.3"/>
<line x1="188" y1="243.60" x2="206.8" y2="243.60" stroke="#ff9c9c" stroke-width="1.3"/>
<text x="151.30" y="246.40" font-size="11" font-family="'Liberation Serif', serif" fill="#222" text-anchor="start" font-style="italic" textLength="32.7" lengthAdjust="spacingAndGlyphs" stroke="#222" stroke-width="0.15">w/DC</text>
<text x="208.20" y="246.40" font-size="11" font-family="'Liberation Serif', serif" fill="#222" text-anchor="start" font-style="italic" textLength="42.3" lengthAdjust="spacingAndGlyphs" stroke="#222" stroke-width="0.15">w/o DC</text>
<line x1="130.9" y1="304.40" x2="149.8" y2="304.40" stroke="#9c9cff" stroke-width="1.3"/>
<line x1="188" y1="304.10" x2="206.8" y2="304.10" stroke="#ff9c9c" stroke-width="1.3"/>
<text x="151.30" y="306.90" font-size="11" font-family="'Liberation Serif', serif" fill="#222" text-anchor="start" font-style="italic" textLength="32.7" lengthAdjust="spacingAndGlyphs" stroke="#222" stroke-width="0.15">w/DC</text>
<text x="208.20" y="306.90" font-size="11" font-family="'Liberation Serif', serif" fill="#222" text-anchor="start" font-style="italic" textLength="42.3" lengthAdjust="spacingAndGlyphs" stroke="#222" stroke-width="0.15">w/o DC</text>
<line x1="130.9" y1="364.40" x2="149.8" y2="364.40" stroke="#9c9cff" stroke-width="1.3"/>
<line x1="188" y1="364.10" x2="206.8" y2="364.10" stroke="#ff9c9c" stroke-width="1.3"/>
<text x="151.30" y="366.90" font-size="11" font-family="'Liberation Serif', serif" fill="#222" text-anchor="start" font-style="italic" textLength="32.7" lengthAdjust="spacingAndGlyphs" stroke="#222" stroke-width="0.15">w/DC</text>
<text x="208.20" y="366.90" font-size="11" font-family="'Liberation Serif', serif" fill="#222" text-anchor="start" font-style="italic" textLength="42.3" lengthAdjust="spacingAndGlyphs" stroke="#222" stroke-width="0.15">w/o DC</text>
<text transform="translate(15.3,267.9) rotate(-90)" font-family="'Liberation Serif', serif" fill="#222" font-style="italic"><tspan font-size="15">K</tspan><tspan font-size="9.2" dy="1.0" dx="-0.3" font-style="normal">1x</tspan></text>
<text transform="translate(15.1,327.7) rotate(-90)" font-family="'Liberation Serif', serif" fill="#222" font-style="italic"><tspan font-size="15">K</tspan><tspan font-size="9.2" dy="1.0" dx="-0.3" font-style="normal">1y</tspan></text>
<text transform="translate(15.1,387.8) rotate(-90)" font-family="'Liberation Serif', serif" fill="#222" font-style="italic"><tspan font-size="15">K</tspan><tspan font-size="9.2" dy="1.0" dx="-0.3" font-style="normal">1z</tspan></text>
<text x="142.20" y="421.50" font-size="13" font-family="'Liberation Serif', serif" fill="#222" text-anchor="middle" >Time [s]</text>
<text x="131.60" y="442.00" font-size="13.6" font-family="'Liberation Serif', serif" fill="#222" text-anchor="middle" font-weight="bold">(c)</text>
<rect x="312.80" y="229.10" width="230.20" height="169.70" fill="none" stroke="#9c9c9c" stroke-width="1"/>
<line x1="312.80" y1="398.8" x2="312.80" y2="396.6" stroke="#9c9c9c" stroke-width="0.8"/>
<line x1="312.80" y1="229.1" x2="312.80" y2="231.29999999999998" stroke="#9c9c9c" stroke-width="0.8"/>
<text x="312.80" y="408.40" font-size="6.3" text-anchor="middle" fill="#383838" stroke="#383838" stroke-width="0.15" font-family="'Liberation Sans', sans-serif">0</text>
<line x1="351.17" y1="398.8" x2="351.17" y2="396.6" stroke="#9c9c9c" stroke-width="0.8"/>
<line x1="351.17" y1="229.1" x2="351.17" y2="231.29999999999998" stroke="#9c9c9c" stroke-width="0.8"/>
<text x="351.17" y="408.40" font-size="6.3" text-anchor="middle" fill="#383838" stroke="#383838" stroke-width="0.15" font-family="'Liberation Sans', sans-serif">10</text>
<line x1="389.53" y1="398.8" x2="389.53" y2="396.6" stroke="#9c9c9c" stroke-width="0.8"/>
<line x1="389.53" y1="229.1" x2="389.53" y2="231.29999999999998" stroke="#9c9c9c" stroke-width="0.8"/>
<text x="389.53" y="408.40" font-size="6.3" text-anchor="middle" fill="#383838" stroke="#383838" stroke-width="0.15" font-family="'Liberation Sans', sans-serif">20</text>
<line x1="427.90" y1="398.8" x2="427.90" y2="396.6" stroke="#9c9c9c" stroke-width="0.8"/>
<line x1="427.90" y1="229.1" x2="427.90" y2="231.29999999999998" stroke="#9c9c9c" stroke-width="0.8"/>
<text x="427.90" y="408.40" font-size="6.3" text-anchor="middle" fill="#383838" stroke="#383838" stroke-width="0.15" font-family="'Liberation Sans', sans-serif">30</text>
<line x1="466.27" y1="398.8" x2="466.27" y2="396.6" stroke="#9c9c9c" stroke-width="0.8"/>
<line x1="466.27" y1="229.1" x2="466.27" y2="231.29999999999998" stroke="#9c9c9c" stroke-width="0.8"/>
<text x="466.27" y="408.40" font-size="6.3" text-anchor="middle" fill="#383838" stroke="#383838" stroke-width="0.15" font-family="'Liberation Sans', sans-serif">40</text>
<line x1="504.63" y1="398.8" x2="504.63" y2="396.6" stroke="#9c9c9c" stroke-width="0.8"/>
<line x1="504.63" y1="229.1" x2="504.63" y2="231.29999999999998" stroke="#9c9c9c" stroke-width="0.8"/>
<text x="504.63" y="408.40" font-size="6.3" text-anchor="middle" fill="#383838" stroke="#383838" stroke-width="0.15" font-family="'Liberation Sans', sans-serif">50</text>
<line x1="543.00" y1="398.8" x2="543.00" y2="396.6" stroke="#9c9c9c" stroke-width="0.8"/>
<line x1="543.00" y1="229.1" x2="543.00" y2="231.29999999999998" stroke="#9c9c9c" stroke-width="0.8"/>
<text x="543.00" y="408.40" font-size="6.3" text-anchor="middle" fill="#383838" stroke="#383838" stroke-width="0.15" font-family="'Liberation Sans', sans-serif">60</text>
<line x1="312.8" y1="398.80" x2="315.0" y2="398.80" stroke="#9c9c9c" stroke-width="0.8"/>
<line x1="543.0" y1="398.80" x2="540.8" y2="398.80" stroke="#9c9c9c" stroke-width="0.8"/>
<text x="309.20" y="401.97" font-size="6.3" text-anchor="end" fill="#383838" stroke="#383838" stroke-width="0.15" font-family="'Liberation Sans', sans-serif">-30</text>
<line x1="312.8" y1="374.56" x2="315.0" y2="374.56" stroke="#9c9c9c" stroke-width="0.8"/>
<line x1="543.0" y1="374.56" x2="540.8" y2="374.56" stroke="#9c9c9c" stroke-width="0.8"/>
<text x="309.20" y="377.73" font-size="6.3" text-anchor="end" fill="#383838" stroke="#383838" stroke-width="0.15" font-family="'Liberation Sans', sans-serif">-28</text>
<line x1="312.8" y1="350.31" x2="315.0" y2="350.31" stroke="#9c9c9c" stroke-width="0.8"/>
<line x1="543.0" y1="350.31" x2="540.8" y2="350.31" stroke="#9c9c9c" stroke-width="0.8"/>
<text x="309.20" y="353.48" font-size="6.3" text-anchor="end" fill="#383838" stroke="#383838" stroke-width="0.15" font-family="'Liberation Sans', sans-serif">-26</text>
<line x1="312.8" y1="326.07" x2="315.0" y2="326.07" stroke="#9c9c9c" stroke-width="0.8"/>
<line x1="543.0" y1="326.07" x2="540.8" y2="326.07" stroke="#9c9c9c" stroke-width="0.8"/>
<text x="309.20" y="329.24" font-size="6.3" text-anchor="end" fill="#383838" stroke="#383838" stroke-width="0.15" font-family="'Liberation Sans', sans-serif">-24</text>
<line x1="312.8" y1="301.83" x2="315.0" y2="301.83" stroke="#9c9c9c" stroke-width="0.8"/>
<line x1="543.0" y1="301.83" x2="540.8" y2="301.83" stroke="#9c9c9c" stroke-width="0.8"/>
<text x="309.20" y="305.00" font-size="6.3" text-anchor="end" fill="#383838" stroke="#383838" stroke-width="0.15" font-family="'Liberation Sans', sans-serif">-22</text>
<line x1="312.8" y1="277.59" x2="315.0" y2="277.59" stroke="#9c9c9c" stroke-width="0.8"/>
<line x1="543.0" y1="277.59" x2="540.8" y2="277.59" stroke="#9c9c9c" stroke-width="0.8"/>
<text x="309.20" y="280.75" font-size="6.3" text-anchor="end" fill="#383838" stroke="#383838" stroke-width="0.15" font-family="'Liberation Sans', sans-serif">-20</text>
<line x1="312.8" y1="253.34" x2="315.0" y2="253.34" stroke="#9c9c9c" stroke-width="0.8"/>
<line x1="543.0" y1="253.34" x2="540.8" y2="253.34" stroke="#9c9c9c" stroke-width="0.8"/>
<text x="309.20" y="256.51" font-size="6.3" text-anchor="end" fill="#383838" stroke="#383838" stroke-width="0.15" font-family="'Liberation Sans', sans-serif">-18</text>
<line x1="312.8" y1="229.10" x2="315.0" y2="229.10" stroke="#9c9c9c" stroke-width="0.8"/>
<line x1="543.0" y1="229.10" x2="540.8" y2="229.10" stroke="#9c9c9c" stroke-width="0.8"/>
<text x="309.20" y="232.27" font-size="6.3" text-anchor="end" fill="#383838" stroke="#383838" stroke-width="0.15" font-family="'Liberation Sans', sans-serif">-16</text>
<text transform="translate(294.1,314.4) rotate(-90)" font-size="13.7" font-family="'Liberation Serif', serif" fill="#222" text-anchor="middle" textLength="81.2" lengthAdjust="spacingAndGlyphs">Propulsion [N]</text>
<line x1="415.7" y1="241.5" x2="434.8" y2="241.5" stroke="#9c9cff" stroke-width="1.3"/>
<line x1="473.4" y1="241.5" x2="491.8" y2="241.5" stroke="#ff9c9c" stroke-width="1.3"/>
<text x="436.10" y="244.70" font-size="11" font-family="'Liberation Serif', serif" fill="#222" text-anchor="start" font-style="italic" textLength="32.7" lengthAdjust="spacingAndGlyphs" stroke="#222" stroke-width="0.15">w/DC</text>
<text x="493.90" y="244.60" font-size="11" font-family="'Liberation Serif', serif" fill="#222" text-anchor="start" font-style="italic" textLength="41.6" lengthAdjust="spacingAndGlyphs" stroke="#222" stroke-width="0.15">w/o DC</text>
<polyline points="312.90,398.80 313.10,370.00 313.63,346.42 314.00,327.00 314.32,311.12 314.88,290.90 314.90,287.90 315.32,291.07 315.92,302.32 316.30,304.60 316.33,303.62 316.75,314.26 317.36,321.13 317.80,329.20 318.07,326.83 318.67,311.26 318.90,309.10 319.11,305.01 319.67,290.27 320.00,283.40 320.11,286.29 320.51,288.36 321.04,299.56 321.60,302.47 321.60,304.60 322.15,311.94 322.68,313.51 323.00,318.00 323.40,324.21 324.06,325.49 324.55,333.48 325.03,335.57 325.20,338.10 325.67,335.62 326.33,326.35 326.70,324.70 327.03,323.17 327.42,314.93 328.10,309.94 328.30,305.80 328.81,311.55 329.22,321.23 329.60,324.70 329.86,324.54 330.28,329.54 330.98,329.16 331.20,332.50 331.40,332.88 331.82,328.51 332.47,327.46 333.00,323.60 333.04,321.97 333.49,327.52 333.91,324.72 334.34,330.00 334.60,329.20 334.79,323.27 335.50,310.57 335.98,294.49 336.44,288.00 336.80,277.90 337.11,279.42 337.52,289.00 337.98,290.38 338.60,299.10 338.62,300.71 339.10,299.98 339.52,304.45 339.98,302.15 340.10,304.60 340.49,305.24 341.19,299.60 341.77,302.16 342.21,297.28 342.40,297.90 342.90,307.31 343.36,310.38 343.50,313.60 343.99,310.93 344.44,301.13 345.12,298.54 345.30,294.60 345.64,295.06 346.04,300.41 346.50,297.73 346.97,304.33 347.00,302.10 347.55,313.52 348.00,327.50 348.20,330.00 348.41,337.90 348.98,367.27 349.20,375.00 349.56,359.95 350.25,336.90 350.40,330.00 350.64,320.62 351.00,310.20 351.17,307.39 351.62,295.29 352.19,285.65 352.40,280.00 352.69,282.36 353.40,298.47 354.00,306.10 354.02,303.97 354.45,303.10 354.84,296.44 355.40,294.10 355.45,297.30 355.85,297.31 356.39,308.03 356.88,309.01 357.10,314.20 357.29,313.73 357.92,301.46 358.55,298.21 359.10,289.10 359.19,288.08 359.70,300.50 360.38,306.55 360.90,319.40 361.10,320.20 361.57,319.64 362.16,325.03 362.74,323.09 363.10,326.20 363.15,327.87 363.86,317.66 364.49,316.75 365.10,310.20 365.12,308.09 365.65,308.14 366.06,300.17 366.45,301.23 367.00,293.45 367.61,291.65 367.70,289.10 368.20,301.41 368.67,318.50 369.15,329.95 369.50,342.30 369.61,342.18 370.29,330.29 370.80,326.00 370.82,328.68 371.31,329.54 371.76,338.34 372.10,340.30 372.42,331.48 373.09,322.03 373.67,307.26 374.10,301.98 374.10,300.10 374.76,291.09 375.38,289.78 375.86,281.25 376.30,278.00 376.39,281.07 376.84,286.25 377.44,300.60 377.93,305.33 378.50,318.20 378.63,323.57 379.04,331.93 379.70,350.30 379.72,350.90 380.34,338.61 380.82,335.44 381.21,326.02 381.75,319.77 381.80,318.20 382.41,325.57 382.84,334.01 383.20,338.30 383.43,331.18 384.03,321.34 384.68,301.65 385.20,292.10 385.29,292.94 385.83,287.69 386.22,288.76 386.84,282.59 387.20,282.00 387.31,283.30 387.93,278.36 388.52,287.93 389.03,268.28 389.40,276.70 389.72,279.43 390.41,263.58 390.84,277.84 391.00,270.00 391.43,262.14 391.94,282.61 392.61,268.72 392.80,279.00 393.31,287.16 393.91,275.81 394.53,291.64 394.60,282.30 395.13,271.46 395.58,288.57 396.10,276.70 396.29,267.80 396.85,291.81 397.35,276.28 397.70,289.00 398.01,297.34 398.42,286.45 398.99,306.21 399.50,300.20 399.54,297.11 400.19,307.38 400.84,301.89 401.30,309.10 401.33,318.64 401.77,307.87 402.32,325.63 402.80,320.30 402.98,309.81 403.68,319.09 404.38,300.77 404.40,304.60 404.84,310.10 405.32,291.13 405.91,304.75 406.20,295.70 406.58,286.43 407.06,299.12 407.73,280.07 408.00,289.00 408.18,300.15 408.89,288.63 409.46,306.16 409.50,301.30 410.02,290.01 410.61,296.53 411.31,280.56 411.80,284.60 411.83,293.58 412.40,269.15 413.01,272.15 413.30,264.50 413.58,258.99 414.28,279.40 414.75,264.38 415.10,273.40 415.18,281.08 415.83,269.80 416.37,290.59 416.82,280.08 416.90,289.00 417.51,290.42 418.15,279.49 418.60,285.82 419.10,277.90 419.22,272.68 419.72,291.33 420.14,277.64 420.56,297.69 420.70,291.30 421.03,284.79 421.59,294.69 422.10,278.71 422.66,288.09 422.90,282.30 423.11,275.31 423.71,295.08 423.80,288.00 424.37,271.24 425.04,274.94 425.30,265.60 425.67,261.36 426.35,286.48 426.84,277.12 426.90,288.00 427.30,295.45 427.98,275.22 428.44,285.16 428.91,268.48 429.10,271.20 429.57,283.67 430.22,279.88 430.73,299.12 430.90,292.40 431.13,292.80 431.74,323.11 432.44,326.20 432.70,337.00 432.99,340.02 433.54,310.73 433.99,313.92 434.30,303.60 434.41,300.35 434.98,312.17 435.55,300.76 435.80,305.80 436.00,308.66 436.66,285.05 437.20,289.00 437.35,294.60 437.75,284.17 438.29,308.78 438.70,303.60 438.78,296.76 439.34,313.68 439.92,306.50 440.54,322.10 440.98,307.47 441.00,314.70 441.61,317.16 442.06,302.31 442.62,306.28 443.20,299.10 443.30,289.97 443.91,310.63 444.51,295.62 445.09,311.41 445.40,304.70 445.80,291.69 446.27,306.83 446.90,281.88 447.00,290.20 447.55,287.72 448.23,259.66 448.80,260.00 448.85,270.23 449.49,268.10 450.11,292.31 450.60,299.10 450.61,291.90 451.00,308.50 451.59,298.22 452.05,320.15 452.10,310.30 452.66,307.24 453.26,325.00 453.82,313.64 454.40,323.70 454.54,333.12 455.15,320.14 455.86,337.70 455.90,334.80 456.45,318.32 456.92,327.70 457.32,310.32 457.70,310.30 457.83,313.20 458.30,294.46 458.86,306.40 459.30,294.60 459.57,287.68 460.28,306.63 460.93,296.76 461.10,301.30 461.52,306.87 461.92,284.23 462.35,297.88 462.79,279.40 462.80,286.80 463.38,286.18 464.08,270.38 464.64,281.27 464.90,271.20 465.14,267.86 465.74,287.97 466.22,275.42 466.60,289.10 466.71,291.10 467.17,278.17 467.61,286.51 468.12,259.29 468.40,266.70 468.75,276.65 469.46,273.64 469.87,302.68 470.40,292.70 470.70,305.80 471.11,318.49 471.66,310.34 472.29,339.52 472.90,341.50 473.00,328.70 473.58,329.01 474.17,301.40 474.62,301.75 475.10,285.70 475.18,281.87 475.71,302.82 476.25,293.94 476.83,315.04 477.40,314.70 477.47,306.87 478.18,332.59 478.81,320.69 479.10,329.20 479.23,339.55 479.88,317.24 480.38,330.78 480.99,313.52 481.20,321.40 481.57,330.47 482.20,315.65 482.67,332.52 482.90,321.10 483.36,305.82 483.76,316.75 484.23,300.37 484.82,306.79 484.90,301.40 485.39,302.78 485.80,321.26 486.37,309.27 486.60,321.10 486.87,333.48 487.33,325.72 487.96,353.19 488.30,348.10 488.37,340.50 489.02,328.23 489.66,287.73 489.80,287.90 490.18,296.63 490.84,287.51 491.44,310.03 491.50,299.00 491.93,290.03 492.56,308.95 493.09,290.24 493.50,307.73 493.92,292.20 494.00,296.50 494.49,303.07 495.10,286.54 495.74,295.43 496.19,280.40 496.40,289.10 496.61,295.52 497.23,278.75 497.71,292.93 498.21,277.59 498.72,291.68 498.90,286.70 499.34,277.56 500.02,296.66 500.71,277.10 501.30,284.20 501.36,290.77 501.85,276.26 502.54,293.86 503.01,275.45 503.52,289.19 503.80,281.80 504.03,270.95 504.48,280.10 505.13,253.13 505.50,256.00 505.79,269.46 506.23,258.17 506.91,285.76 507.30,277.53 507.50,289.10 507.87,296.83 508.57,277.08 509.22,288.80 509.40,284.20 509.79,274.41 510.20,289.37 510.83,274.75 511.24,295.19 511.67,276.57 511.90,286.70 512.27,291.34 512.73,273.42 513.29,291.29 513.80,272.33 514.40,276.90 514.51,286.31 515.05,268.44 515.68,286.55 516.36,269.40 516.80,276.90 517.02,286.59 517.69,267.89 518.35,289.95 519.05,270.95 519.30,280.50 519.61,290.01 520.26,272.43 520.78,284.88 521.41,268.00 521.70,279.30 521.92,284.43 522.37,271.04 522.85,289.51 523.26,271.14 523.68,286.64 524.20,276.90 524.32,271.87 524.73,286.67 525.31,269.92 525.70,286.98 526.15,278.04 526.60,285.50 526.61,295.24 527.19,281.04 527.64,294.46 528.08,279.14 528.57,298.84 529.10,291.60 529.22,284.05 529.69,304.74 530.38,289.67 530.95,310.08 531.49,295.10 531.60,301.40 531.89,314.38 532.54,299.91 533.10,315.71 533.58,306.62 534.00,316.20 534.18,318.99 534.57,308.54 535.07,317.11 535.69,302.36 536.00,306.30 536.13,309.79 536.62,303.92 537.29,314.30 537.89,303.62 538.20,311.30 538.36,315.73 538.80,302.58 539.18,313.35 539.85,297.80 539.90,303.90 540.26,309.51 540.88,305.93 541.42,316.21 541.90,313.70 542.12,307.17 542.79,313.10 543.00,308.00" fill="none" stroke="#ff2c2c" stroke-width="0.9" stroke-opacity="1.0" stroke-linejoin="round"/>
<polyline points="312.90,398.80 313.10,370.00 313.71,342.12 314.00,327.00 314.47,312.16 314.90,300.20 315.17,302.13 315.83,302.58 316.26,305.29 316.30,304.60 316.95,314.50 317.55,325.81 317.80,329.20 318.27,319.33 318.84,311.57 318.90,309.10 319.28,299.10 320.00,283.40 320.01,284.16 320.69,291.53 321.45,303.28 321.60,304.60 322.07,307.84 322.72,316.03 323.00,318.00 323.17,318.25 323.76,326.20 324.23,328.04 324.94,336.96 325.20,338.10 325.37,335.80 325.80,333.82 326.35,326.54 326.70,324.70 326.91,323.39 327.64,312.92 328.26,307.54 328.30,305.80 328.87,313.28 329.39,322.74 329.60,324.70 329.88,325.03 330.50,330.03 330.96,330.29 331.20,332.50 331.71,330.73 332.25,326.06 332.88,324.91 333.00,323.60 333.30,323.54 333.85,327.47 334.37,327.35 334.60,329.20 335.05,319.49 335.50,307.02 336.24,291.27 336.80,277.90 336.87,277.61 337.43,286.45 338.20,293.36 338.60,299.10 338.76,300.32 339.27,300.97 339.73,303.89 340.10,304.60 340.45,302.62 341.16,302.75 341.87,298.99 342.40,297.90 342.63,301.64 343.32,309.90 343.50,313.60 343.98,309.37 344.43,303.31 345.08,297.64 345.30,294.60 345.69,295.60 346.17,299.17 346.85,300.52 347.00,302.10 347.41,312.54 348.03,325.09 348.20,330.00 348.61,349.70 349.20,375.00 349.30,370.58 349.83,351.83 350.39,330.13 350.40,330.00 351.00,310.20 351.07,309.59 351.65,295.04 352.18,285.64 352.40,280.00 352.94,287.82 353.58,300.05 354.00,306.10 354.36,301.90 354.89,299.29 355.40,294.10 355.52,294.59 356.13,303.36 356.76,309.05 357.10,314.20 357.45,310.66 358.03,301.57 358.65,295.71 359.07,288.77 359.10,289.10 359.85,301.87 360.43,308.72 360.93,318.27 361.10,320.20 361.54,320.42 361.97,323.70 362.71,324.02 363.10,326.20 363.49,323.60 364.24,315.92 364.67,314.63 365.10,310.20 365.36,307.43 366.01,303.98 366.72,296.20 367.16,294.44 367.65,288.57 367.70,289.10 368.16,303.63 368.78,319.87 369.50,342.30 369.55,342.49 369.97,335.23 370.52,330.68 370.80,326.00 371.24,330.38 371.92,339.04 372.10,340.30 372.45,332.40 373.07,321.52 373.67,308.09 374.10,300.10 374.13,300.48 374.80,292.35 375.29,288.97 375.79,281.88 376.30,278.00 376.49,282.03 377.01,290.19 377.62,303.03 378.23,312.19 378.50,318.20 378.71,324.75 379.19,335.64 379.70,350.30 379.72,351.13 380.46,337.43 381.03,331.06 381.51,321.60 381.80,318.20 382.21,324.90 382.74,330.60 383.20,338.30 383.43,334.09 383.96,320.14 384.47,309.67 384.89,298.73 385.20,292.10 385.49,291.52 386.23,286.10 386.71,285.74 387.15,281.45 387.20,282.00 387.85,281.20 388.62,274.72 389.15,281.48 389.40,276.70 389.90,271.37 390.37,274.45 391.00,270.00 391.09,266.20 391.74,277.65 392.45,274.87 392.80,279.00 392.94,283.44 393.67,277.57 394.18,283.23 394.60,282.30 394.75,277.47 395.24,282.54 395.67,274.89 396.10,276.70 396.12,280.51 396.71,278.44 397.23,287.94 397.70,289.00 397.97,286.31 398.66,297.23 399.15,295.26 399.50,300.20 399.89,306.48 400.39,301.03 400.95,310.43 401.30,309.10 401.44,306.33 402.14,319.73 402.73,316.78 402.80,320.30 403.39,316.47 404.12,303.38 404.40,304.60 404.63,306.39 405.22,296.40 405.89,299.60 406.20,295.70 406.65,289.68 407.38,294.48 407.97,286.18 408.00,289.00 408.74,298.25 409.50,301.30 409.51,299.08 409.94,301.23 410.43,292.11 410.86,293.30 411.44,285.45 411.80,284.60 411.97,286.34 412.48,274.83 413.04,274.07 413.30,268.90 413.66,265.85 414.09,274.19 414.71,268.11 415.10,273.40 415.38,278.32 416.02,277.13 416.78,291.93 416.90,289.00 417.24,284.46 417.84,286.96 418.53,277.60 419.10,277.90 419.30,280.82 420.01,283.67 420.62,292.63 420.70,291.30 421.18,285.84 421.94,287.71 422.50,282.09 422.90,282.30 423.19,286.13 423.68,283.21 423.80,288.00 424.12,289.39 424.63,276.06 425.09,278.24 425.30,274.60 425.68,275.20 426.34,285.86 426.87,286.47 426.90,288.00 427.33,286.59 427.91,277.63 428.53,280.22 429.10,274.60 429.11,271.57 429.84,283.37 430.50,286.36 430.90,292.40 431.25,303.31 431.88,311.44 432.58,331.21 432.70,332.60 433.11,323.91 433.59,319.93 434.22,303.35 434.30,303.60 434.74,306.62 435.19,301.67 435.75,306.99 435.80,305.80 436.36,299.00 437.05,297.76 437.20,294.60 437.56,294.17 438.12,301.67 438.70,303.60 438.81,300.77 439.53,310.50 440.11,307.24 440.61,314.26 441.00,314.70 441.10,311.33 441.60,312.86 442.31,302.57 442.80,303.43 443.20,299.10 443.23,297.93 443.74,303.50 444.46,300.02 444.89,306.11 445.40,304.70 445.66,301.33 446.30,300.11 446.84,288.89 447.00,290.20 447.55,289.70 448.03,280.59 448.66,282.76 448.80,279.00 449.30,281.32 449.93,295.02 450.39,295.61 450.60,299.10 450.86,303.58 451.53,302.63 451.96,310.22 452.10,310.30 452.51,309.80 453.08,318.00 453.57,315.84 454.21,326.10 454.40,323.70 454.75,322.21 455.51,329.97 455.90,328.10 456.03,323.78 456.61,322.49 457.07,314.01 457.60,313.26 457.70,310.30 458.28,302.68 458.86,301.49 459.28,291.54 459.30,294.60 459.80,298.12 460.41,296.90 460.84,301.81 461.10,301.30 461.27,297.63 461.81,297.06 462.29,287.83 462.80,286.80 462.92,290.05 463.34,285.36 463.77,293.56 464.43,290.50 464.90,294.60 464.97,297.03 465.60,289.04 466.04,292.77 466.60,289.10 466.69,286.04 467.31,289.04 467.75,279.79 468.23,284.89 468.40,281.30 468.92,282.27 469.65,299.23 470.18,297.81 470.70,305.80 470.77,311.28 471.42,313.75 472.10,330.91 472.72,335.42 472.90,341.50 473.46,331.82 474.07,311.48 474.75,304.49 475.10,292.40 475.44,293.60 476.21,304.68 476.89,306.98 477.34,317.13 477.40,314.70 477.81,315.75 478.57,329.02 479.10,329.20 479.13,325.70 479.76,329.55 480.23,321.77 480.96,327.01 481.20,321.40 481.59,317.05 482.17,325.47 482.88,316.55 482.90,321.10 483.37,320.00 483.81,308.45 484.40,309.99 484.90,301.40 485.01,299.82 485.49,311.01 486.19,313.64 486.60,321.10 486.95,331.10 487.47,331.63 488.18,347.47 488.30,348.10 488.87,321.98 489.54,299.82 489.80,287.90 490.19,288.76 490.71,297.61 491.36,295.12 491.50,299.00 491.87,301.60 492.40,295.62 492.91,300.99 493.60,292.56 494.00,296.50 494.16,300.65 494.71,289.94 495.42,296.27 496.17,286.08 496.40,289.10 496.91,291.27 497.51,284.41 498.12,289.15 498.63,283.15 498.90,286.70 499.19,290.41 499.87,282.11 500.34,288.45 501.09,281.62 501.30,284.20 501.54,288.16 502.09,281.07 502.70,287.44 503.32,279.85 503.74,285.02 503.80,281.80 504.26,275.77 505.00,283.09 505.50,276.90 505.75,275.72 506.39,285.93 507.01,282.54 507.50,289.10 507.50,291.27 507.94,283.98 508.42,291.17 509.08,282.26 509.40,284.20 509.82,286.50 510.31,280.85 510.87,290.23 511.46,285.06 511.90,286.70 512.22,290.22 512.80,279.12 513.47,282.48 514.16,274.46 514.40,276.90 514.83,278.18 515.40,274.54 516.15,278.41 516.58,274.06 516.80,276.90 517.29,279.95 517.96,274.32 518.59,282.53 519.28,278.46 519.30,280.50 519.80,284.70 520.29,277.41 520.76,283.29 521.52,277.26 521.70,279.30 522.12,283.42 522.57,275.09 523.10,281.52 523.86,272.59 524.20,276.90 524.40,279.99 525.01,275.13 525.51,284.25 526.07,278.96 526.60,287.83 526.60,285.50 527.16,283.33 527.66,292.30 528.15,285.79 528.70,295.13 529.10,291.60 529.47,289.76 530.04,298.39 530.68,295.60 531.12,302.13 531.60,301.40 531.74,299.37 532.22,308.80 532.99,305.30 533.50,314.65 534.00,316.20 534.16,312.44 534.63,315.41 535.16,307.33 535.92,308.40 536.00,306.30 536.68,306.44 537.19,312.11 537.74,307.13 538.20,311.30 538.37,313.11 539.12,304.57 539.65,307.08 539.90,303.90 540.20,303.69 540.74,310.68 541.31,309.70 541.90,313.70 542.02,315.66 542.77,306.74 543.00,308.00" fill="none" stroke="#3434ff" stroke-width="0.9" stroke-opacity="1.0" stroke-linejoin="round"/>
<text x="427.80" y="421.20" font-size="13" font-family="'Liberation Serif', serif" fill="#222" text-anchor="middle" >Time [s]</text>
<text x="415.60" y="442.50" font-size="13.6" font-family="'Liberation Serif', serif" fill="#222" text-anchor="middle" font-weight="bold">(d)</text>
</svg>
</body></html>
